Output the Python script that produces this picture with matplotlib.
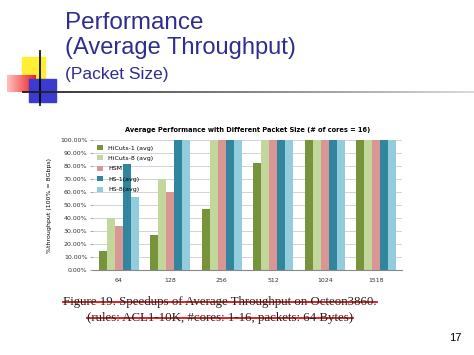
import numpy as np
import matplotlib
matplotlib.use("Agg")
from matplotlib import pyplot as plt
from matplotlib.patches import Rectangle

# 数据
packet_sizes = ["64", "128", "256", "512", "1024", "1518"]
series_names = ["HiCuts-1 (avg)", "HiCuts-8 (avg)", "HSM", "HS-1(avg)", "HS-8(avg)"]
hicuts1 = [15, 27, 47, 83, 100, 100]
hicuts8 = [40, 70, 100, 100, 100, 100]
hsm = [34, 60, 100, 100, 100, 100]
hs1 = [82, 100, 100, 100, 100, 100]
hs8 = [56, 100, 100, 100, 100, 100]
yticks = np.arange(0, 101, 10)

colors = ["#77933c", "#c3d69b", "#d99694", "#31859c", "#93cddd"]
W, H = 474, 355

fig = plt.figure(figsize=(4.74, 3.55), dpi=100)
fig.patch.set_facecolor("white")

# 幻灯片装饰
deco = fig.add_axes([0, 0, 1, 1])
deco.set_xlim(0, W)
deco.set_ylim(H, 0)
deco.axis("off")
deco.add_patch(Rectangle((22, 57), 23, 25, color="#ffee33", zorder=1))
grad = np.linspace(0, 1, 50).reshape(1, -1)
deco.imshow(grad, extent=(7, 36, 92, 75), cmap=matplotlib.colors.LinearSegmentedColormap.from_list(
    "r", ["#ffc0c0", "#ee2020"]), aspect="auto", zorder=2)
deco.add_patch(Rectangle((29, 79), 27, 23, color="#3b3bd0", zorder=3))
deco.plot([40, 40], [51, 105], color="black", lw=1.2, zorder=4)
xs = np.linspace(22, 474, 200)
for i in range(len(xs) - 1):
    g = 0.1 + 0.75 * i / len(xs)
    deco.plot(xs[i:i + 2], [92, 92], color=(g, g, g), lw=1.3, zorder=4, solid_capstyle="butt")
deco.set_xlim(0, W)
deco.set_ylim(H, 0)

tc = "#2e2e8e"
fig.text(65 / W, 1 - 29 / H, "Performance", fontsize=17.5, color=tc, family="Liberation Sans")
fig.text(65 / W, 1 - 54 / H, "(Average Throughput)", fontsize=17, color=tc, family="Liberation Sans")
fig.text(65 / W, 1 - 79 / H, "(Packet Size)", fontsize=12.5, color=tc, family="Liberation Sans")

# 图表
ax = fig.add_axes([93 / W, 1 - 270 / H, 309 / W, 129.5 / H])
x = np.arange(len(packet_sizes))
bw = 0.155
for i, (name, vals) in enumerate(zip(series_names, [hicuts1, hicuts8, hsm, hs1, hs8])):
    ax.bar(x + (i - 2) * bw, vals, bw, color=colors[i], label=name, zorder=2)
ax.set_xlim(-0.5, len(packet_sizes) - 0.5)
ax.set_ylim(0, 100)
ax.set_yticks(yticks)
ax.set_yticklabels(["%.2f%%" % v for v in yticks], fontsize=4.5, color="#333333")
ax.set_xticks(x)
ax.set_xticklabels(packet_sizes, fontsize=4.5, color="#333333")
ax.grid(axis="y", color="#cccccc", lw=0.6, zorder=0)
for s in ["top", "right", "left"]:
    ax.spines[s].set_visible(False)
ax.spines["bottom"].set_color("#888888")
ax.tick_params(axis="x", length=0, pad=6)
ax.tick_params(axis="y", length=2, color="#aaaaaa", pad=2)
ax.set_ylabel("%throughput (100% = 8Gbps)", fontsize=4.5, labelpad=6)
ax.set_title("Average Performance with Different Packet Size (# of cores = 16)",
             fontsize=4.8, fontweight="bold", pad=6)
ax.legend(loc="upper left", fontsize=4.5, frameon=False, handlelength=0.9,
          handleheight=0.9, labelspacing=0.75, borderaxespad=0.3)

# 说明文字（带删除线）
cap1 = "Figure 19. Speedups of Average Throughput on Octeon3860."
cap2 = "(rules: ACL1-10K, #cores: 1-16, packets: 64 Bytes)"
for txt, y in [(cap1, 302), (cap2, 318)]:
    t = fig.text(220 / W, 1 - y / H, txt, fontsize=9.3, family="Liberation Serif",
                 ha="center", va="center", color="#222222")
fig.canvas.draw()
r = fig.canvas.get_renderer()
for t in fig.texts[-2:]:
    bb = t.get_window_extent(r)
    fig.add_artist(plt.Line2D([bb.x0 / fig.bbox.width, bb.x1 / fig.bbox.width],
                              [(bb.y0 + bb.y1) / 2 / fig.bbox.height] * 2,
                              transform=fig.transFigure, color="#e01010", lw=1.3))

fig.text(455 / W, 1 - 338 / H, "17", fontsize=8, family="Liberation Sans", ha="center", va="center")

plt.savefig("out.png", dpi=100)
